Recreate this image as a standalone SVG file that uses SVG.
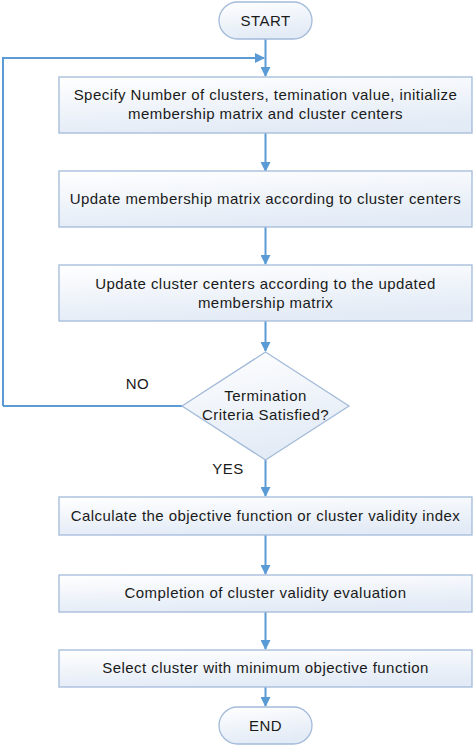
<svg xmlns="http://www.w3.org/2000/svg" width="474" height="746" viewBox="0 0 474 746">
<defs>
<linearGradient id="g" x1="0" y1="0" x2="0.3" y2="1">
<stop offset="0" stop-color="#ffffff"/>
<stop offset="1" stop-color="#e3ebf6"/>
</linearGradient>
<marker id="ah" markerWidth="10" markerHeight="10" refX="9" refY="5" orient="auto" markerUnits="userSpaceOnUse">
<path d="M0,0 L10,5 L0,10 Z" fill="#5b9bd5"/>
</marker>
<style>
.n{fill:url(#g);stroke:#a3bbd9;stroke-width:1.3}
.t{font-family:"Liberation Sans",Arial,sans-serif;font-size:15px;letter-spacing:0.45px;fill:#1a1a1a;text-anchor:middle}
.c{fill:none;stroke:#5b9bd5;stroke-width:2}
</style>
</defs>
<rect width="474" height="746" fill="#ffffff"/>
<g id="connectors">
<path class="c" d="M265.5,39 V76" marker-end="url(#ah)"/>
<path class="c" d="M3,406 V58 H264" marker-end="url(#ah)"/>
<path class="c" d="M182,406 H3"/>
<path class="c" d="M265.5,133 V171" marker-end="url(#ah)"/>
<path class="c" d="M265.5,227 V264" marker-end="url(#ah)"/>
<path class="c" d="M265.5,321 V351" marker-end="url(#ah)"/>
<path class="c" d="M265.5,460 V496" marker-end="url(#ah)"/>
<path class="c" d="M265.5,535 V574" marker-end="url(#ah)"/>
<path class="c" d="M265.5,612 V649" marker-end="url(#ah)"/>
<path class="c" d="M265.5,687 V706" marker-end="url(#ah)"/>
</g>
<g id="start">
<rect class="n" x="219" y="2" width="93" height="37" rx="18.5"/>
<text class="t" x="265.5" y="26">START</text>
</g>
<g id="box1">
<rect class="n" x="59" y="77" width="413" height="56"/>
<text class="t" x="265.5" y="100">Specify Number of clusters, temination value, initialize</text>
<text class="t" x="265.5" y="119">membership matrix and cluster centers</text>
</g>
<g id="box2">
<rect class="n" x="59" y="171" width="413" height="56"/>
<text class="t" x="265.5" y="204">Update membership matrix according to cluster centers</text>
</g>
<g id="box3">
<rect class="n" x="59" y="265" width="413" height="56"/>
<text class="t" x="265.5" y="289">Update cluster centers according to the updated</text>
<text class="t" x="265.5" y="308">membership matrix</text>
</g>
<g id="decision">
<polygon class="n" points="265.5,352 349,406 265.5,460 182,406"/>
<text class="t" x="265.5" y="401">Termination</text>
<text class="t" x="265.5" y="420">Criteria Satisfied?</text>
</g>
<text class="t" x="137.5" y="389">NO</text>
<text class="t" x="228" y="474">YES</text>
<g id="box4">
<rect class="n" x="59" y="497" width="413" height="38"/>
<text class="t" x="265.5" y="521">Calculate the objective function or cluster validity index</text>
</g>
<g id="box5">
<rect class="n" x="59" y="575" width="413" height="37"/>
<text class="t" x="265.5" y="598">Completion of cluster validity evaluation</text>
</g>
<g id="box6">
<rect class="n" x="59" y="650" width="413" height="37"/>
<text class="t" x="265.5" y="673">Select cluster with minimum objective function</text>
</g>
<g id="end">
<rect class="n" x="219" y="707" width="93" height="37" rx="18.5"/>
<text class="t" x="265.5" y="731">END</text>
</g>
</svg>
